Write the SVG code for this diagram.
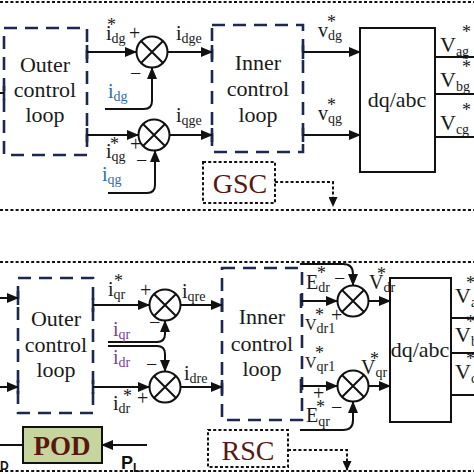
<svg xmlns="http://www.w3.org/2000/svg" width="474" height="474" viewBox="0 0 474 474">
<defs>
<style>
text{font-family:"Liberation Serif","Times New Roman",serif;fill:#1a1a1a}
.lbl{font-size:20px}
.sub{font-size:14px}
.st{font-size:18px}
.big{font-size:22px}
.blk{font-size:22px}
.blue{fill:#2f6ea8}
.purp{fill:#7b3f8e}
.dash{fill:none;stroke:#1c2850;stroke-width:2.6;stroke-dasharray:13 8}
.dot{fill:none;stroke:#111;stroke-width:2;stroke-dasharray:3 2.2}
.ln{fill:none;stroke:#111;stroke-width:2}
.box{fill:#fff;stroke:#111;stroke-width:2}
.sum{fill:#fff;stroke:#111;stroke-width:2}
.tick{stroke:#1c2850;stroke-width:2.6}
.red{fill:#5a1712;font-size:28px}
.sans{font-family:"Liberation Sans",Arial,sans-serif;font-weight:bold;fill:#111}
</style>
<marker id="ah" markerWidth="12" markerHeight="10" refX="11" refY="5" orient="auto" markerUnits="userSpaceOnUse">
<path d="M0,0 L12,5 L0,10 Z" fill="#111"/>
</marker>
<marker id="ahs" markerWidth="10" markerHeight="9" refX="9" refY="4.5" orient="auto" markerUnits="userSpaceOnUse">
<path d="M0,0 L10,4.5 L0,9 Z" fill="#111"/>
</marker>
<g id="sj">
<circle cx="0" cy="0" r="15.5" class="sum"/>
<path d="M-11,-11 L11,11 M11,-11 L-11,11" class="ln"/>
</g>
</defs>

<g id="separators">
<line x1="0" y1="2" x2="474" y2="2" class="dot"/>
<line x1="0" y1="210" x2="474" y2="210" class="dot"/>
<line x1="0" y1="262" x2="474" y2="262" class="dot"/>
<line x1="0" y1="471" x2="474" y2="471" class="dot"/>
</g>

<!-- ===== GSC section ===== -->
<g id="outer-gsc">
<rect x="4" y="28" width="83" height="127" class="dash"/>
<line x1="4" y1="86" x2="4" y2="100" class="tick"/>
<line x1="0" y1="93" x2="4" y2="93" class="ln"/>
<line x1="87" y1="45" x2="87" y2="59" class="tick"/>
<line x1="87" y1="128" x2="87" y2="142" class="tick"/>
<text class="blk" x="45" y="72" text-anchor="middle">Outer</text>
<text class="blk" x="45" y="97" text-anchor="middle">control</text>
<text class="blk" x="45" y="122" text-anchor="middle">loop</text>
</g>

<g id="sum-dg"><use href="#sj" x="152" y="52"/></g>
<g id="sum-qg"><use href="#sj" x="154" y="135"/></g>

<g id="inner-gsc">
<rect x="212" y="25" width="91" height="127" class="dash"/>
<line x1="212" y1="45" x2="212" y2="59" class="tick"/>
<line x1="212" y1="128" x2="212" y2="142" class="tick"/>
<line x1="303" y1="45" x2="303" y2="59" class="tick"/>
<line x1="303" y1="128" x2="303" y2="142" class="tick"/>
<text class="blk" x="258" y="70" text-anchor="middle">Inner</text>
<text class="blk" x="258" y="96" text-anchor="middle">control</text>
<text class="blk" x="258" y="122" text-anchor="middle">loop</text>
</g>

<g id="dqabc-gsc">
<rect x="360" y="28" width="75" height="144" class="box"/>
<text class="blk" x="397" y="107" text-anchor="middle">dq/abc</text>
</g>

<g id="gsc">
<rect x="203" y="162" width="72" height="41" class="dot"/>
<text class="red" x="240" y="193" text-anchor="middle">GSC</text>
</g>

<!-- ===== RSC section ===== -->
<g id="outer-rsc">
<rect x="18" y="278" width="75" height="135" class="dash"/>
<line x1="18" y1="291" x2="18" y2="305" class="tick"/>
<line x1="18" y1="380" x2="18" y2="394" class="tick"/>
<line x1="93" y1="298" x2="93" y2="312" class="tick"/>
<line x1="93" y1="380" x2="93" y2="394" class="tick"/>
<text class="blk" x="56" y="326" text-anchor="middle">Outer</text>
<text class="blk" x="56" y="352" text-anchor="middle">control</text>
<text class="blk" x="56" y="377" text-anchor="middle">loop</text>
</g>

<g id="sum-qr"><use href="#sj" x="165" y="305"/></g>
<g id="sum-dr"><use href="#sj" x="165" y="387"/></g>

<g id="inner-rsc">
<rect x="222" y="268" width="80" height="152" class="dash"/>
<line x1="222" y1="298" x2="222" y2="312" class="tick"/>
<line x1="222" y1="380" x2="222" y2="394" class="tick"/>
<line x1="301" y1="294" x2="301" y2="308" class="tick"/>
<line x1="301" y1="379" x2="301" y2="393" class="tick"/>
<text class="blk" x="262" y="324" text-anchor="middle">Inner</text>
<text class="blk" x="262" y="351" text-anchor="middle">control</text>
<text class="blk" x="262" y="376" text-anchor="middle">loop</text>
</g>

<g id="sum-vdr"><use href="#sj" x="353" y="301"/></g>
<g id="sum-vqr"><use href="#sj" x="353" y="386"/></g>

<g id="dqabc-rsc">
<rect x="390" y="278" width="61" height="144" class="box"/>
<text class="blk" x="420" y="357" text-anchor="middle">dq/abc</text>
</g>

<g id="pod">
<rect x="23" y="427" width="79" height="36" fill="#c6d59e" stroke="#111" stroke-width="2"/>
<text x="62" y="455" text-anchor="middle" font-size="27" font-weight="bold" style="fill:#5a1712">POD</text>
</g>

<g id="rsc">
<rect x="208" y="430" width="80" height="37" class="dot"/>
<text class="red" x="248" y="460" text-anchor="middle">RSC</text>
</g>

<!-- ===== connectors ===== -->
<g id="connectors">
<line x1="87" y1="52" x2="136" y2="52" class="ln" marker-end="url(#ah)"/>
<path d="M105,109 H144 Q152,109 152,101 V68" class="ln" marker-end="url(#ah)"/>
<line x1="168" y1="52" x2="212" y2="52" class="ln" marker-end="url(#ah)"/>
<line x1="87" y1="135" x2="138" y2="135" class="ln" marker-end="url(#ah)"/>
<path d="M108,193 H147 Q155,193 155,185 V151" class="ln" marker-end="url(#ah)"/>
<line x1="170" y1="135" x2="212" y2="135" class="ln" marker-end="url(#ah)"/>
<line x1="303" y1="52" x2="360" y2="52" class="ln" marker-end="url(#ah)"/>
<line x1="303" y1="135" x2="360" y2="135" class="ln" marker-end="url(#ah)"/>
<line x1="435" y1="57" x2="474" y2="57" class="ln"/>
<line x1="435" y1="94" x2="474" y2="94" class="ln"/>
<line x1="435" y1="137" x2="474" y2="137" class="ln"/>
<path d="M275,182 H333 V206" class="dot" marker-end="url(#ahs)"/>

<line x1="0" y1="298" x2="18" y2="298" class="ln" marker-end="url(#ah)"/>
<line x1="0" y1="387" x2="18" y2="387" class="ln" marker-end="url(#ah)"/>
<line x1="93" y1="305" x2="149" y2="305" class="ln" marker-end="url(#ah)"/>
<line x1="181" y1="305" x2="222" y2="305" class="ln" marker-end="url(#ah)"/>
<path d="M108,342 H157 Q165,342 165,334 V321" class="ln" marker-end="url(#ah)"/>
<path d="M108,346 H157 Q165,346 165,354 V371" class="ln" marker-end="url(#ah)"/>
<line x1="93" y1="387" x2="149" y2="387" class="ln" marker-end="url(#ah)"/>
<line x1="181" y1="387" x2="222" y2="387" class="ln" marker-end="url(#ah)"/>

<path d="M300,264 H343 Q353,264 353,274 V285" class="ln" marker-end="url(#ah)"/>
<line x1="301" y1="301" x2="337" y2="301" class="ln" marker-end="url(#ah)"/>
<line x1="369" y1="301" x2="390" y2="301" class="ln" marker-end="url(#ah)"/>
<line x1="301" y1="386" x2="337" y2="386" class="ln" marker-end="url(#ah)"/>
<path d="M300,430 H343 Q353,430 353,420 V402" class="ln" marker-end="url(#ah)"/>
<line x1="369" y1="386" x2="390" y2="386" class="ln" marker-end="url(#ah)"/>
<line x1="451" y1="318" x2="474" y2="318" class="ln"/>
<line x1="451" y1="353" x2="474" y2="353" class="ln"/>
<line x1="451" y1="395" x2="474" y2="395" class="ln"/>

<line x1="0" y1="445" x2="23" y2="445" class="ln"/>
<line x1="147" y1="445" x2="102" y2="445" class="ln" marker-end="url(#ah)"/>
<path d="M288,450 H347 V470" class="dot" marker-end="url(#ahs)"/>
</g>

<!-- ===== labels ===== -->
<g id="labels">
<text class="lbl" x="106" y="40">i<tspan class="sub" y="43">dg</tspan><tspan class="st" x="107" y="31">*</tspan></text>
<text class="lbl" x="129" y="40">+</text>
<text class="lbl" x="130" y="80">−</text>
<text class="lbl blue" x="108" y="98">i<tspan class="sub blue" y="101">dg</tspan></text>
<text class="lbl" x="176" y="40">i<tspan class="sub" y="43">dge</tspan></text>

<text class="lbl" x="106" y="158">i<tspan class="sub" y="161">qg</tspan><tspan class="st" x="110" y="150">*</tspan></text>
<text class="lbl" x="130" y="151">+</text>
<text class="lbl" x="136" y="167">−</text>
<text class="lbl blue" x="102" y="181">i<tspan class="sub blue" y="184">qg</tspan></text>
<text class="lbl" x="176" y="122">i<tspan class="sub" y="125">qge</tspan></text>

<text class="lbl" x="318" y="37">v<tspan class="sub" y="40">dg</tspan><tspan class="st" x="327" y="28">*</tspan></text>
<text class="lbl" x="318" y="120">v<tspan class="sub" y="123">qg</tspan><tspan class="st" x="327" y="111">*</tspan></text>

<text class="big" x="440" y="52">V<tspan class="sub" y="56">ag</tspan><tspan class="st" x="462" y="38">*</tspan></text>
<text class="big" x="440" y="87">V<tspan class="sub" y="91">bg</tspan><tspan class="st" x="462" y="73">*</tspan></text>
<text class="big" x="440" y="130">V<tspan class="sub" y="134">cg</tspan><tspan class="st" x="462" y="116">*</tspan></text>

<text class="lbl" x="108" y="296">i<tspan class="sub" y="299">qr</tspan><tspan class="st" x="114" y="287">*</tspan></text>
<text class="lbl" x="140" y="297">+</text>
<text class="lbl" x="149" y="329">−</text>
<text class="lbl purp" x="113" y="336">i<tspan class="sub purp" y="339">qr</tspan></text>
<text class="lbl purp" x="113" y="364">i<tspan class="sub purp" y="367">dr</tspan></text>
<text class="lbl" x="146" y="371">−</text>
<text class="lbl" x="182" y="298">i<tspan class="sub" y="301">qre</tspan></text>
<text class="lbl" x="184" y="380">i<tspan class="sub" y="383">dre</tspan></text>
<text class="lbl" x="113" y="410">i<tspan class="sub" y="413">dr</tspan><tspan class="st" x="123" y="402">*</tspan></text>
<text class="lbl" x="137" y="405">+</text>

<text class="lbl" x="306" y="289">E<tspan class="sub" y="292">dr</tspan><tspan class="st" x="317" y="279">*</tspan></text>
<text class="lbl" x="334" y="285">−</text>
<text class="lbl" x="369" y="289">V<tspan class="sub" y="292">dr</tspan><tspan class="st" x="377" y="280">*</tspan></text>
<text style="font-size:16px" x="305" y="330">V<tspan class="sub" y="333">dr1</tspan><tspan class="st" x="315" y="321">*</tspan></text>
<text class="lbl" x="331" y="322">+</text>

<text style="font-size:16px" x="305" y="368">V<tspan class="sub" y="371">qr1</tspan><tspan class="st" x="315" y="359">*</tspan></text>
<text class="lbl" x="361" y="374">V<tspan class="sub" y="377">qr</tspan><tspan class="st" x="370" y="365">*</tspan></text>
<text class="lbl" x="313" y="400">+</text>
<text class="lbl" x="306" y="422">E<tspan class="sub" y="426">qr</tspan><tspan class="st" x="316" y="413">*</tspan></text>
<text class="lbl" x="331" y="414">−</text>

<text class="big" x="455" y="303">V<tspan class="sub" y="307">a</tspan><tspan class="st" x="466" y="289">*</tspan></text>
<text class="big" x="455" y="342">V<tspan class="sub" y="346">b</tspan><tspan class="st" x="466" y="328">*</tspan></text>
<text class="big" x="455" y="379">V<tspan class="sub" y="383">c</tspan><tspan class="st" x="466" y="365">*</tspan></text>

<text class="sans" x="0" y="470" font-size="12">D</text>
<text class="sans" x="121" y="469" font-size="18">P<tspan font-size="12" y="472">L</tspan></text>
</g>
</svg>
